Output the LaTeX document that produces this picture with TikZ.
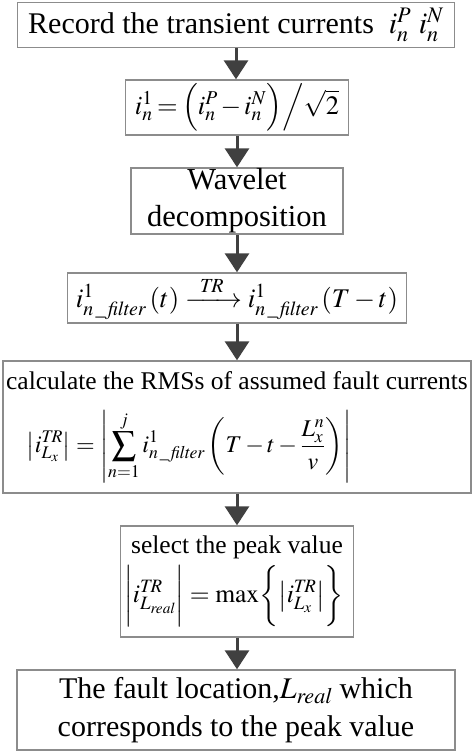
\documentclass[tikz,border=0pt]{standalone}
\usepackage{amsmath}
\usepackage{mathptmx}
\usepackage[no-math]{fontspec}
\setmainfont{Liberation Serif}
\usetikzlibrary{arrows.meta}
\definecolor{boxgray}{HTML}{8C8C8C}
\definecolor{arrgray}{HTML}{404040}
\tikzset{
  stepbox/.style={draw=boxgray, line width=1.4pt, rectangle, inner sep=0pt, align=center, text=black},
  flowarrow/.style={draw=arrgray, line width=3pt, -{Triangle[width=24pt,length=19pt]}, color=arrgray},
}
\newcommand{\flt}{n\,\_\,\mathit{filter}}
\begin{document}
\begin{tikzpicture}[x=1pt,y=-1pt]
\useasboundingbox (0,0) rectangle (474,753);
\node[stepbox, minimum width=437pt, minimum height=45pt, font=\fontsize{30}{34}\selectfont] (b1) at (236,25)
  {Record the transient currents\ \ $i_n^P\ i_n^N$};
\node[stepbox, minimum width=223pt, minimum height=55pt, font=\fontsize{26.5}{34}\selectfont] (b2) at (237,107.5)
  {\medmuskip=2mu\thickmuskip=3mu$i_n^1=\Bigl(i_n^P-i_n^N\Bigr)\Big/\sqrt{2}$};
\node[stepbox, minimum width=212pt, minimum height=66pt, font=\fontsize{30.5}{37}\selectfont] (b3) at (237,201)
  {Wavelet\\decomposition};
\node[stepbox, minimum width=339pt, minimum height=50pt, font=\fontsize{27}{30}\selectfont] (b4) at (237,298)
  {$i_{\flt}^1\left(t\right)\xrightarrow{\;\;\mathit{TR}\;\;} i_{\flt}^1\left(T-t\right)$};
\node[stepbox, minimum width=468pt, minimum height=132pt, font=\fontsize{25.5}{30}\selectfont] (b5) at (237,427)
  {calculate the RMSs of assumed fault currents\\[20pt]
   \makebox[460pt][l]{\hspace{20pt}\fontsize{24}{30}\selectfont$\displaystyle \left|i_{L_x}^{\mathit{TR}}\right|=\left|\sum_{n=1}^{j} i_{\flt}^1\left(T-t-\frac{L_x^n}{v}\right)\right|$}};
\node[stepbox, minimum width=233pt, minimum height=111pt, font=\fontsize{25.5}{30}\selectfont] (b6) at (237,581.5)
  {select the peak value\\[6pt]
   \makebox[225pt][l]{\hspace{0pt}$\displaystyle \biggl|i_{L_{\mathit{real}}}^{\mathit{TR}}\biggr|=\max\biggl\{\left|i_{L_x}^{\mathit{TR}}\right|\biggr\}$}};
\node[stepbox, minimum width=438pt, minimum height=80pt, font=\fontsize{30}{38}\selectfont] (b7) at (236,710)
  {The fault location,$L_{\mathit{real}}$ which\\corresponds to the peak value};
\draw[flowarrow] (b1.south) -- (b1.south |- b2.north);
\draw[flowarrow] (b2.south) -- (b2.south |- b3.north);
\draw[flowarrow] (b3.south) -- (b3.south |- b4.north);
\draw[flowarrow] (b4.south) -- (b4.south |- b5.north);
\draw[flowarrow] (b5.south) -- (b5.south |- b6.north);
\draw[flowarrow] (b6.south) -- (b6.south |- b7.north);
\end{tikzpicture}
\end{document}
